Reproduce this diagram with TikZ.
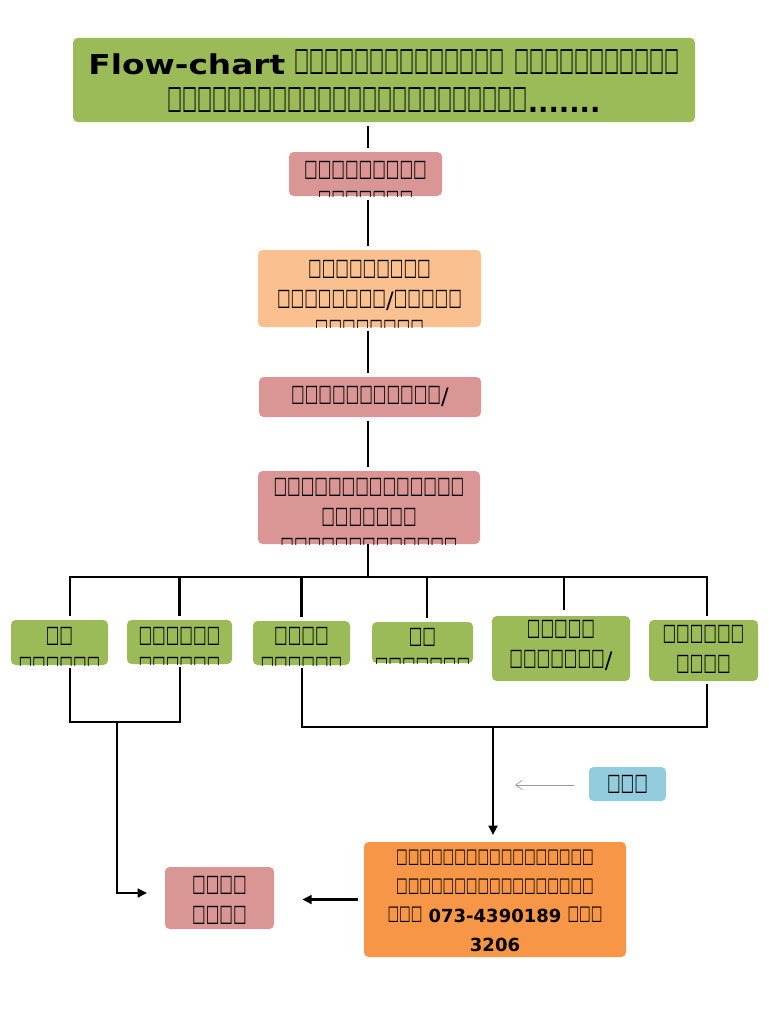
\documentclass[tikz,border=0pt]{standalone}
\usepackage{fontspec}
\setmainfont{DejaVu Sans}
\newfontfamily\tfr{DejaVu Sans}[Scale=1.1,FakeStretch=0.61]
\newfontfamily\tfb{DejaVu Sans Bold}[Scale=1.25,FakeStretch=0.49]
\newfontfamily\ttlfont{DejaVu Sans Bold}[FakeStretch=1.2]
\usetikzlibrary{fit,arrows.meta}
\definecolor{cgreen}{HTML}{9BBB59}
\definecolor{cpink}{HTML}{D99694}
\definecolor{cpeach}{HTML}{FAC090}
\definecolor{corange}{HTML}{F79646}
\definecolor{cblue}{HTML}{93CDDD}
\begin{document}
\begin{tikzpicture}[x=0.75pt,y=-0.75pt,
  box/.style={rounded corners=3.5pt, inner sep=0pt, draw=none},
  gbox/.style={box, fill=cgreen},
  pbox/.style={box, fill=cpink},
  txt/.style={inner sep=0pt, align=center, font=\fontsize{17}{22.5}\selectfont},
  otxt/.style={inner sep=0pt, align=center, font=\fontsize{14.5}{21.5}\selectfont},
  ttxt/.style={inner sep=0pt, align=center, font=\fontsize{20.5}{28.5}\selectfont\bfseries},
  conn/.style={line width=2.1pt, line join=miter},
  arr/.style={conn, -{Triangle[length=7pt,width=6.5pt]}},
  garr/.style={line width=0.5pt, draw=black!40, -{Straight Barb[length=5pt,width=7pt]}}]
\useasboundingbox (0,0) rectangle (768,1024);
\fill[white] (0,0) rectangle (768,1024);

% boxes
\node[gbox, fit={(73,38) (695,122)}] (title) {};
\node[pbox, fit={(289,152) (442,196)}] (a) {};
\node[box, fill=cpeach, fit={(258,250) (481,327)}] (b) {};
\node[pbox, fit={(259,377) (481,417)}] (c) {};
\node[pbox, fit={(258,471) (480,544)}] (d) {};
\node[gbox, fit={(11,620) (108,665)}] (g1) {};
\node[gbox, fit={(127,620) (232,664)}] (g2) {};
\node[gbox, fit={(253,621) (350,665)}] (g3) {};
\node[gbox, fit={(372,622) (473,663)}] (g4) {};
\node[gbox, fit={(492,616) (630,681)}] (g5) {};
\node[gbox, fit={(649,620) (758,681)}] (g6) {};
\node[box, fill=cblue, fit={(589,767) (666,801)}] (bl) {};
\node[box, fill=corange, fit={(364,842) (626,957)}] (o) {};
\node[pbox, fit={(165,867) (274,929)}] (e) {};

% texts
\node[ttxt] (titletxt) at (384,81) {{\ttlfont Flow-chart} {\tfb ☐☐☐☐☐☐☐☐☐☐☐☐☐☐} {\tfb ☐☐☐☐☐☐☐☐☐☐☐}\\{\tfb ☐☐☐☐☐☐☐☐☐☐☐☐☐☐☐☐☐☐☐☐☐☐☐☐}.......};
\begin{scope}
\clip[rounded corners=3.5pt] (a.north west) rectangle (a.south east);
\node[txt] (atxt) at (365.5,185) {{\tfr ☐☐☐☐☐☐☐☐☐}\\{\tfr ☐☐☐☐☐☐☐}};
\end{scope}
\begin{scope}
\clip[rounded corners=3.5pt] (b.north west) rectangle (b.south east);
\node[txt] (btxt) at (369.5,299) {{\tfr ☐☐☐☐☐☐☐☐☐}\\{\tfr ☐☐☐☐☐☐☐☐}/{\tfr ☐☐☐☐☐}\\{\tfr ☐☐☐☐☐☐☐☐}};
\end{scope}
\node[txt] (ctxt) at (370,396) {{\tfr ☐☐☐☐☐☐☐☐☐☐☐}/};
\begin{scope}
\clip[rounded corners=3.5pt] (d.north west) rectangle (d.south east);
\node[txt] (dtxt) at (369,517) {{\tfr ☐☐☐☐☐☐☐☐☐☐☐☐☐☐}\\{\tfr ☐☐☐☐☐☐☐}\\{\tfr ☐☐☐☐☐☐☐☐☐☐☐☐☐}};
\end{scope}
\begin{scope}
\clip[rounded corners=3.5pt] (g1.north west) rectangle (g1.south east);
\node[txt] (g1txt) at (59.5,651) {{\tfr ☐☐}\\{\tfr ☐☐☐☐☐☐}};
\end{scope}
\begin{scope}
\clip[rounded corners=3.5pt] (g2.north west) rectangle (g2.south east);
\node[txt] (g2txt) at (179.5,651) {{\tfr ☐☐☐☐☐☐}\\{\tfr ☐☐☐☐☐☐}};
\end{scope}
\begin{scope}
\clip[rounded corners=3.5pt] (g3.north west) rectangle (g3.south east);
\node[txt] (g3txt) at (301.5,651) {{\tfr ☐☐☐☐}\\{\tfr ☐☐☐☐☐☐}};
\end{scope}
\begin{scope}
\clip[rounded corners=3.5pt] (g4.north west) rectangle (g4.south east);
\node[txt] (g4txt) at (422.5,652) {{\tfr ☐☐}\\{\tfr ☐☐☐☐☐☐☐}};
\end{scope}
\node[txt] (g5txt) at (561,645) {{\tfr ☐☐☐☐☐}\\{\tfr ☐☐☐☐☐☐☐}/};
\node[txt] (g6txt) at (703.5,649) {{\tfr ☐☐☐☐☐☐}\\{\tfr ☐☐☐☐}};
\node[txt] (bltxt) at (627.5,784) {{\tfr ☐☐☐}};
\node[otxt] (otxt) at (495,901) {{\tfr ☐☐☐☐☐☐☐☐☐☐☐☐☐☐☐☐☐}\\{\tfr ☐☐☐☐☐☐☐☐☐☐☐☐☐☐☐☐☐}\\{\tfr ☐☐☐} {\fontsize{13.5}{21.5}\selectfont\bfseries 073-4390189} {\tfr ☐☐☐}\\{\fontsize{13.5}{21.5}\selectfont\bfseries 3206}};
\node[txt] (etxt) at (219.5,900) {{\tfr ☐☐☐☐}\\{\tfr ☐☐☐☐}};

% connectors
\coordinate (spine) at (368,0);
\draw[conn, shorten <=3pt, shorten >=3pt] (title.south -| spine) -- (a.north -| spine);
\draw[conn, shorten <=3pt, shorten >=3pt] (a.south -| spine) -- (b.north -| spine);
\draw[conn, shorten <=3pt, shorten >=3pt] (b.south -| spine) -- (c.north -| spine);
\draw[conn, shorten <=3pt, shorten >=3pt] (c.south -| spine) -- (d.north -| spine);
\coordinate (busL) at (70,577);
\coordinate (busR) at (707,577);
\draw[conn] (d.south -| spine) -- (spine |- busL);
\draw[conn, shorten <=3pt, shorten >=3pt] (g1.north -| busL) -- (busL) -- (busR) -- (g6.north -| busR);
\draw[conn, shorten >=3pt] (busL -| g2.north) -- (g2.north);
\draw[conn, shorten >=3pt] (busL -| g3.north) -- (g3.north);
\coordinate (d4) at (427,577);
\draw[conn, shorten >=3pt] (d4) -- (g4.north -| d4);
\coordinate (d5) at (564,577);
\draw[conn, shorten >=4pt] (d5) -- (g5.north -| d5);

\coordinate (jl) at (70,722);
\coordinate (jr) at (180,722);
\coordinate (ej) at (117,722);
\coordinate (etip) at (147,893);
\draw[conn, shorten <=2pt, shorten >=2pt] (g1.south -| jl) -- (jl) -- (jr) -- (g2.south -| jr);
\draw[arr] (ej) |- (etip);

\coordinate (kl) at (302,727);
\coordinate (kr) at (707,727);
\coordinate (kj) at (493,727);
\draw[conn, shorten <=2pt, shorten >=2pt] (g3.south -| kl) -- (kl) -- (kr) -- (g6.south -| kr);
\draw[arr, shorten >=5pt] (kj) -- (o.north -| kj);
\draw[arr, shorten <=4.5pt, shorten >=21pt] (o.west) -- (e.east |- o.west);
\coordinate (gtip) at (515,785);
\draw[garr, shorten <=11pt] (bl.west |- gtip) -- (gtip);
\end{tikzpicture}
\end{document}
